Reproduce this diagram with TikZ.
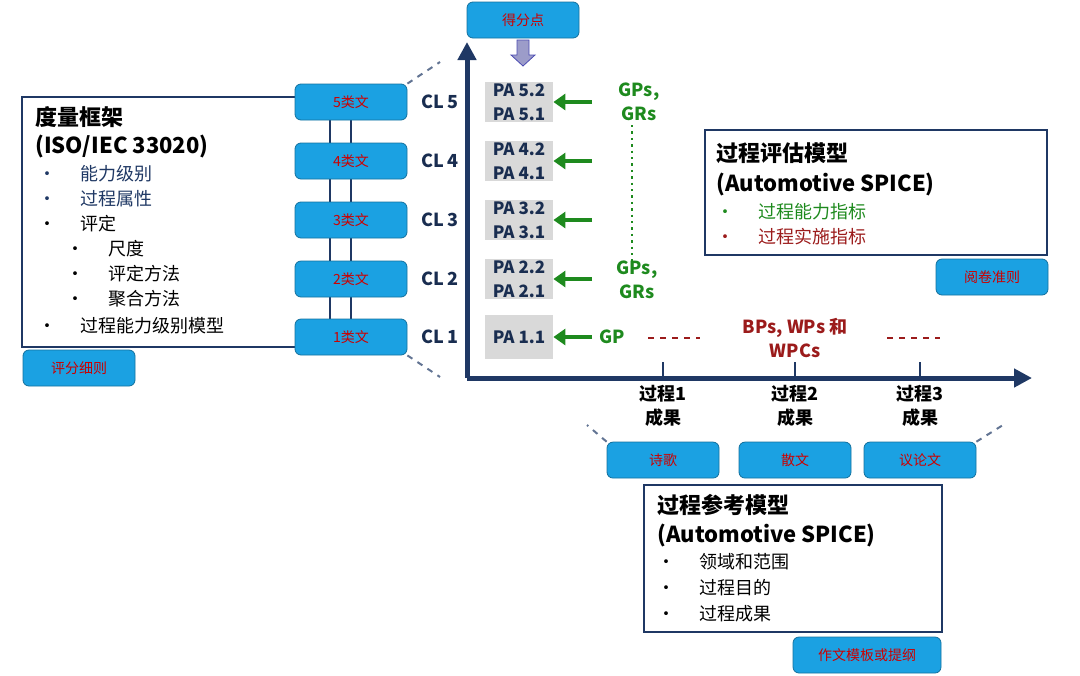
\documentclass[tikz,border=0pt]{standalone}
\usepackage{fontspec}
\setmainfont{Noto Sans CJK SC}
\usetikzlibrary{positioning, arrows.meta}
\definecolor{navy}{HTML}{1F3864}
\definecolor{cyanbox}{HTML}{1BA1E2}
\definecolor{dred}{HTML}{9B1B1B}
\definecolor{dgreen}{HTML}{1E8A1E}
\definecolor{pagray}{HTML}{D9D9D9}
\tikzset{
    tag/.style = {draw=cyanbox!70!black, fill=cyanbox, rounded corners=3pt, minimum width=56pt, minimum height=18pt, text=red!80!black, font=\fontsize{7}{8}\selectfont},
    frame/.style = {draw=navy, line width=0.8pt},
    txt/.style = {anchor=west, inner sep=0pt, font=\fontsize{9}{10}\selectfont},
    head/.style = {txt, font=\fontsize{11}{12}\selectfont\bfseries},
    pa/.style = {fill=pagray, minimum width=34pt, inner sep=1pt, align=center, text=navy!80!black, font=\fontsize{8.5}{12}\selectfont\bfseries},
    garrow/.style = {-{Triangle[length=6pt,width=8pt]}, dgreen, line width=2pt},
    axis/.style = {-{Triangle[length=9pt,width=9pt]}, navy, line width=2.5pt},
    zoomline/.style = {navy!70, dashed, line width=1pt}
}
\begin{document}
\begin{tikzpicture}[x=0.5pt, y=-0.5pt]
    \useasboundingbox (0,0) rectangle (1080,675);
    % measurement framework
    \draw[frame] (22,97) rectangle (330,347);
    \node[head] at (35,117) {度量框架};
    \node[head] at (35,146) {(ISO/IEC 33020)};
    \foreach \y/\t/\c in {174/能力级别/navy, 199/过程属性/navy, 224/评定/black, 326/过程能力级别模型/black}
        \node[txt, text=\c] at (38,\y) {\textbullet\hspace{12pt}\t};
    \foreach \y/\t in {249/尺度, 274/评定方法, 299/聚合方法}
        \node[txt] at (66,\y) {\textbullet\hspace{12pt}\t};
    \node[tag] (rubric) at (79,368) {评分细则};
    % capability levels
    \draw[navy, line width=1pt] (351,102) -- (351,337);
    \foreach \i/\y in {5/102, 4/161, 3/220, 2/279, 1/337} {
        \node[tag] (lv\i) at (351,\y) {\i 类文};
        \node[font=\fontsize{9}{10}\selectfont\bfseries, text=navy!80!black] (cl\i) at (440,\y) {CL \i};
        \draw[navy, line width=1pt] (cl\i.east) -- (467,\y);
        \coordinate (ar\i) at (592,\y);
    }
    \draw[zoomline] (lv5.north east) -- (440,62);
    \draw[zoomline] (lv1.south east) -- (440,377);
    % axes
    \coordinate (o) at (467,378);
    \coordinate (ytop) at (467,42);
    \coordinate (xend) at (1032,378);
    \draw[axis] (o) -- (ytop);
    \draw[axis] (o) -- (xend);
    % process attributes
    \node[pa] (pa5) at (519,102) {PA 5.2\\PA 5.1};
    \node[pa] (pa4) at (519,161) {PA 4.2\\PA 4.1};
    \node[pa] (pa3) at (519,220) {PA 3.2\\PA 3.1};
    \node[pa] (pa2) at (519,279) {PA 2.2\\PA 2.1};
    \node[pa, minimum height=22pt] (pa1) at (519,337) {PA 1.1};
    \foreach \i in {1,...,5}
        \draw[garrow] (ar\i) -- (pa\i.east);
    \node[tag] (score) at (523,20) {得分点};
    \draw[fill=blue!30!gray!60, draw=blue!40!gray] (517,40) -- (529,40) -- (529,55) -- (535,55) -- (523,66) -- (511,55) -- (517,55) -- cycle;
    % generic practices
    \node[align=center, text=dgreen, font=\fontsize{9}{12}\selectfont\bfseries] (gp5) at (639,102) {GPs,\\GRs};
    \node[align=center, text=dgreen, font=\fontsize{9}{12}\selectfont\bfseries] (gp2) at (637,280) {GPs,\\GRs};
    \draw[dgreen, dotted, line width=1.2pt] (632,125) -- (632,265);
    \node[text=dgreen, font=\fontsize{9}{10}\selectfont\bfseries] (gp1) at (612,337) {GP};
    % base practices
    \draw[dred, dashed, line width=1pt] (648,338) -- (700,338);
    \draw[dred, dashed, line width=1pt] (887,338) -- (940,338);
    \node[align=center, text=dred, font=\fontsize{9}{12}\selectfont\bfseries] (bp) at (795,338) {BPs, WPs 和\\WPCs};
    % process outcomes
    \foreach \n/\x/\t in {1/663/诗歌, 2/795/散文, 3/920/议论文} {
        \draw[navy, line width=1pt] (\x,362) -- (\x,378);
        \node[align=center, font=\fontsize{9}{12}\selectfont\bfseries] (out\n) at (\x,406) {过程\n\\成果};
        \node[tag, below=4pt of out\n] (genre\n) {\t};
    }
    \draw[zoomline] (genre1.north west) -- (587,425);
    \draw[zoomline] (genre3.north east) -- (1003,425);
    % reference model
    \draw[frame, fill=white] (644,485) rectangle (942,632);
    \node[head] at (657,505) {过程参考模型};
    \node[head] at (657,535) {(Automotive SPICE)};
    \foreach \y/\t in {562/领域和范围, 588/过程目的, 614/过程成果}
        \node[txt] at (657,\y) {\textbullet\hspace{12pt}\t};
    \node[tag, minimum width=74pt] (outline) at (867,655) {作文模板或提纲};
    % assessment model
    \draw[frame] (705,130) rectangle (1047,255);
    \node[head] at (716,153) {过程评估模型};
    \node[head] at (716,184) {(Automotive SPICE)};
    \node[txt, text=dgreen] at (716,212) {\textbullet\hspace{12pt}过程能力指标};
    \node[txt, text=dred] at (716,237) {\textbullet\hspace{12pt}过程实施指标};
    \node[tag] (criteria) at (992,277) {阅卷准则};
\end{tikzpicture}
\end{document}
